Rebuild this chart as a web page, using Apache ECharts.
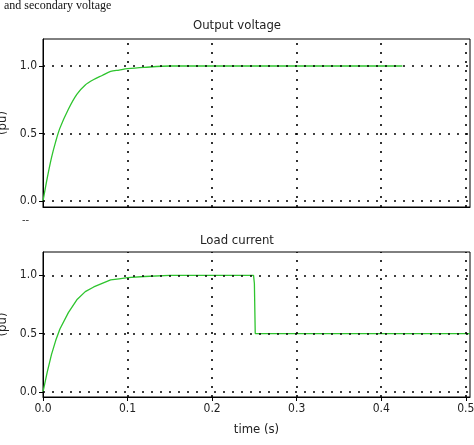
<!DOCTYPE html><html><head><meta charset="utf-8"><script src="https://cdn.jsdelivr.net/npm/echarts@6/dist/echarts.min.js"></script></head><body style="margin:0;background:#fff"><div id="c" style="width:474px;height:445px"></div><script>
const vTime=[0,0.005,0.01,0.015,0.02,0.03,0.04,0.05,0.06,0.07,0.08,0.09,0.1,0.12,0.15,0.2,0.3,0.425];
const vVal=[0,0.17,0.32,0.44,0.54,0.68,0.79,0.86,0.9,0.93,0.96,0.97,0.98,0.99,1.0,1.0,1.0,1.0];
const iTime=[0,0.005,0.01,0.015,0.02,0.03,0.04,0.05,0.06,0.07,0.08,0.09,0.1,0.12,0.15,0.2,0.249,0.25,0.251,0.3,0.4,0.505];
const iVal=[0,0.17,0.32,0.44,0.54,0.68,0.79,0.86,0.9,0.93,0.96,0.97,0.98,0.99,1.0,1.0,1.0,0.93,0.5,0.5,0.5,0.5];
const yTicks=[0,0.5,1.0];
const xGrid=[0.1,0.2,0.3,0.4,0.5];
const font='"DejaVu Sans Condensed","DejaVu Sans"';
const dot={type:[2,7],color:'#000',width:1.6};
function mk(){return {silent:true,symbol:'none',label:{show:false},lineStyle:dot,animation:false,
 data:yTicks.map(v=>({yAxis:v})).concat(xGrid.map(v=>({xAxis:v})))};}
function yAx(i){return {gridIndex:i,type:'value',min:-0.044,max:1.2,name:'(pu)',nameLocation:'middle',nameGap:31,
 nameTextStyle:{fontFamily:font,fontSize:13,color:'#222'},splitLine:{show:false},
 axisLine:{show:true,lineStyle:{color:'#000'}},axisTick:{show:true,length:4,customValues:yTicks,lineStyle:{color:'#000'}},
 axisLabel:{customValues:yTicks,formatter:v=>v.toFixed(1),fontFamily:font,fontSize:12,color:'#222',margin:6}};}
function xAx(i,lab){return {gridIndex:i,type:'value',min:0,max:0.505,interval:0.1,splitLine:{show:false},
 axisLine:{show:true,onZero:false,lineStyle:{color:'#000'}},axisTick:{show:lab,length:4,lineStyle:{color:'#000'}},
 axisLabel:{show:lab,showMaxLabel:false,formatter:v=>v.toFixed(1),fontFamily:font,fontSize:12,color:'#222',margin:6},
 name:lab?'time (s)':'',nameLocation:'middle',nameGap:26,nameTextStyle:{fontFamily:font,fontSize:13,color:'#222'}};}
const chart=echarts.init(document.getElementById('c'));
chart.setOption({animation:false,
 graphic:[{type:'text',left:4,top:0,style:{text:'and secondary voltage',font:'12px "Liberation Serif"',fill:'#111'}},
 {type:'text',left:22,top:215,style:{text:'--',font:'10px "DejaVu Sans"',fill:'#333'}}],
 title:[{text:'Output voltage',left:'center',top:14,textStyle:{fontFamily:font,fontSize:13,fontWeight:'normal',color:'#222'}},
  {text:'Load current',left:'center',top:229,textStyle:{fontFamily:font,fontSize:13,fontWeight:'normal',color:'#222'}}],
 grid:[{left:43,top:39,right:4,height:168,show:true,borderColor:'#000',borderWidth:1,containLabel:false,outerBoundsMode:'none'},
  {left:43,top:252,right:4,height:145,show:true,borderColor:'#000',borderWidth:1,containLabel:false,outerBoundsMode:'none'}],
 xAxis:[xAx(0,false),xAx(1,true)],yAxis:[yAx(0),yAx(1)],
 series:[{type:'line',xAxisIndex:0,yAxisIndex:0,showSymbol:false,smooth:0.3,data:vTime.map((t,i)=>[t,vVal[i]]),lineStyle:{color:'#2ec42e',width:1.3},markLine:mk()},
  {type:'line',xAxisIndex:1,yAxisIndex:1,showSymbol:false,data:iTime.map((t,i)=>[t,iVal[i]]),lineStyle:{color:'#2ec42e',width:1.3},markLine:mk()}]
});
</script></body></html>
